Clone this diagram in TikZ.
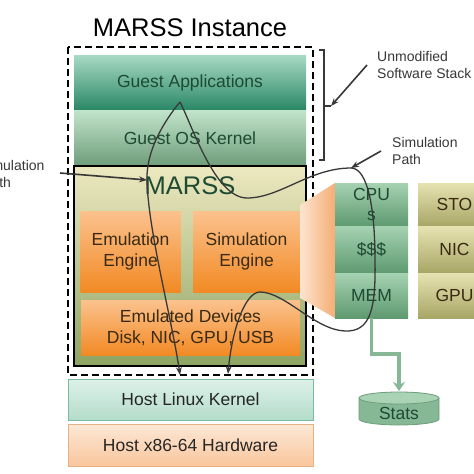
\documentclass[tikz,border=0pt]{standalone}
\usepackage{fontspec}
\setmainfont{Liberation Sans}
\usetikzlibrary{arrows.meta}
\definecolor{gaT}{HTML}{A8DAC4}
\definecolor{gaB}{HTML}{2A8766}
\definecolor{goT}{HTML}{C2E5CA}
\definecolor{goB}{HTML}{6E9C7A}
\definecolor{mrT}{HTML}{EDE8C0}
\definecolor{mrB}{HTML}{8DA462}
\definecolor{orT}{HTML}{FBC28E}
\definecolor{orB}{HTML}{F28A24}
\definecolor{hlT}{HTML}{DDF1E8}
\definecolor{hlB}{HTML}{B4DCCB}
\definecolor{hlD}{HTML}{78BBA3}
\definecolor{hwT}{HTML}{FDE8D6}
\definecolor{hwB}{HTML}{F9C69C}
\definecolor{hwD}{HTML}{E9B084}
\definecolor{cpT}{HTML}{A6D2B2}
\definecolor{cpB}{HTML}{5E9A70}
\definecolor{rcT}{HTML}{E6E3B2}
\definecolor{rcB}{HTML}{A8A666}
\definecolor{tzL}{HTML}{FDE4D0}
\definecolor{tzR}{HTML}{F4AE74}
\definecolor{txG}{HTML}{1E4A32}
\definecolor{txO}{HTML}{3A2A12}
\definecolor{crv}{HTML}{383838}
\definecolor{stG}{HTML}{86B896}
\definecolor{stD}{HTML}{6C9E7C}
\definecolor{stL}{HTML}{A9D3B4}
\begin{document}
\begin{tikzpicture}[x=1pt,y=-1pt,
  blk/.style={inner sep=0pt, align=center, font=\fontsize{17.5}{21}\selectfont},
  lbl/.style={inner sep=0pt, align=left, text=crv, font=\fontsize{14}{17}\selectfont},
  curve/.style={draw=crv, line width=1.3pt},
  tipd/.style={-{Stealth[length=8pt,width=6pt]}},
]
\useasboundingbox (0,0) rectangle (474,474);
\clip (0,0) rectangle (474,474);
\fill[white] (0,0) rectangle (474,474);

% title
\node[inner sep=0pt, font=\fontsize{25.5}{30}\selectfont, text=black] (title) at (190,28) {MARSS Instance};

% dashed instance box
\draw[line width=1.5pt, dash pattern=on 7pt off 4pt] (68,47) rectangle (313,375);

% guest layers
\node[blk, minimum width=232pt, minimum height=55pt, top color=gaT, bottom color=gaB, text=txG] (gapp) at (190,82.5) {Guest Applications};
\node[blk, minimum width=232pt, minimum height=56pt, top color=goT, bottom color=goB, text=txG] (gos) at (190,138) {Guest OS Kernel};

% MARSS box
\node[blk, draw=black, line width=1.5pt, minimum width=232pt, minimum height=200pt, top color=mrT, bottom color=mrB] (marss) at (190,266) {};
\node[inner sep=0pt, font=\fontsize{25.5}{30}\selectfont, text=txG] (marsslbl) at (190,186) {MARSS};

\node[blk, minimum width=100pt, minimum height=81pt, top color=orT, bottom color=orB, text=txO] (emu) at (130.5,251.5) {Emulation\\Engine};
\node[blk, minimum width=107pt, minimum height=81pt, top color=orT, bottom color=orB, text=txO] (sim) at (246.5,251.5) {Simulation\\Engine};
\node[blk, minimum width=219pt, minimum height=55pt, top color=orT, bottom color=orB, text=txO] (dev) at (190.5,327.5) {Emulated Devices\\Disk, NIC, GPU, USB};

% host layers
\node[blk, draw=hlD, line width=1pt, minimum width=245pt, minimum height=41pt, top color=hlT, bottom color=hlB, text=black!85] (hlk) at (190.5,399.5) {Host Linux Kernel};
\node[blk, draw=hwD, line width=1pt, minimum width=245pt, minimum height=42pt, top color=hwT, bottom color=hwB, text=black!85] (hw) at (190.5,445) {Host x86-64 Hardware};

% funnel
\shade[left color=tzL, right color=tzR] (300,205) -- (335,183) -- (335,318) -- (300,298) -- cycle;

% CPU column
\node[blk, minimum width=73pt, minimum height=43pt, top color=cpT, bottom color=cpB, text=txG, font=\fontsize{17.5}{20}\selectfont] (cpu) at (371.5,204.5) {CPU\\s};
\node[blk, minimum width=73pt, minimum height=47pt, top color=cpT, bottom color=cpB, text=txG] (cache) at (371.5,249.5) {\$\$\$};
\node[blk, minimum width=73pt, minimum height=45pt, top color=cpT, bottom color=cpB, text=txG] (mem) at (371.5,295.5) {MEM};

% right column
\node[blk, minimum width=73pt, minimum height=43pt, top color=rcT, bottom color=rcB, text=txO] (sto) at (454.5,204.5) {STO};
\node[blk, minimum width=73pt, minimum height=47pt, top color=rcT, bottom color=rcB, text=txO] (nic) at (454.5,249.5) {NIC};
\node[blk, minimum width=73pt, minimum height=45pt, top color=rcT, bottom color=rcB, text=txO] (gpu) at (454.5,295.5) {GPU};

% stats cylinder
\fill[stG] (359,398) -- (359,419) arc[start angle=180,end angle=0,x radius=40,y radius=6] -- (439,398) arc[start angle=0,end angle=-180,x radius=40,y radius=6] -- cycle;
\draw[stD, line width=0.8pt] (359,398) -- (359,419) arc[start angle=180,end angle=0,x radius=40,y radius=6] -- (439,398);
\filldraw[fill=stL, draw=stD, line width=0.8pt] (399,398) ellipse[x radius=40, y radius=6];
\node[blk, text=txG] (stats) at (399,413) {Stats};
\coordinate (stattop) at (399,391);

% stats connector
\draw[stG, line width=3.5pt, -{Stealth[length=9pt,width=12pt]}] (mem.south) -- ++(0,36) -| (stattop);

% curves
\coordinate (peak) at (180,102);
\coordinate (emuend) at (180,375);
\coordinate (simend) at (228,374);
\coordinate (emuhit) at (147,180);
\coordinate (simhit) at (351,168);
\draw[curve, tipd] (peak) .. controls (165,120) and (146,150) .. (emuhit)
  .. controls (148,230) and (172,320) .. (emuend);
\draw[curve, tipd] (peak) .. controls (192,125) and (215,198) .. (247,198)
  .. controls (280,198) and (310,168) .. (simhit)
  .. controls (368,168) and (375,210) .. (375,260)
  .. controls (376,310) and (370,332) .. (345,331)
  .. controls (315,330) and (285,292) .. (260,292)
  .. controls (245,292) and (232,330) .. (simend);

% bracket
\coordinate (brk) at (331,106);
\draw[crv, line width=1.2pt] (319,50) -- (324,50) -- (324,160) -- (319,160);
\draw[crv, line width=1.2pt] (324,106) -- (brk);

% labels
\node[lbl, anchor=west] (unmod) at (377,65) {Unmodified\\Software Stack};
\node[lbl, anchor=west] (simpath) at (392,151) {Simulation\\Path};
\node[lbl, anchor=west] (emupath) at (-18,174) {Emulation\\Path};

\coordinate (unmodstart) at (367,65);
\coordinate (simstart) at (381,151);
\coordinate (emustart) at (60,173);
\draw[crv, line width=1.6pt, tipd] (unmodstart) -- (brk);
\draw[crv, line width=1.6pt, tipd] (simstart) -- (simhit);
\draw[crv, line width=1.6pt, tipd] (emustart) -- (emuhit);
\end{tikzpicture}
\end{document}
